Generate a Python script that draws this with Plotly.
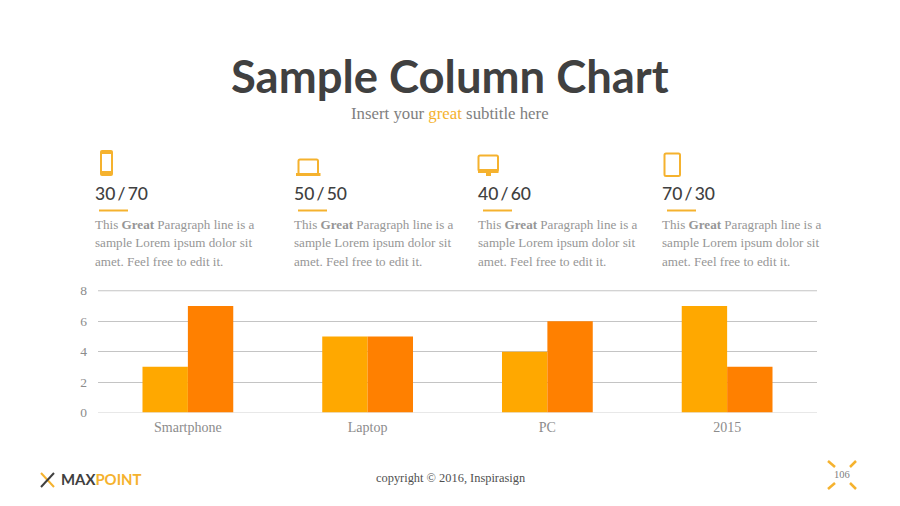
import plotly.graph_objects as go

W, H = 900, 506

categories = ["Smartphone", "Laptop", "PC", "2015"]
series_1 = [3, 5, 4, 7]
series_2 = [7, 5, 6, 3]
y_ticks = [0, 2, 4, 6, 8]

card_titles = ["30 / 70", "50 / 50", "40 / 60", "70 / 30"]
card_lines = ["This <b>Great</b> Paragraph line is a",
              "sample Lorem ipsum dolor sit",
              "amet. Feel free to edit it."]

SERIF = "Liberation Serif"
LATO = "Lato"
GOLD = "#f5b22e"
DARK = "#404040"
GRID = "#c4c4c4"


def px(x):
    return x / W


def py(y):
    return 1 - y / H


def label(x, y, text, size, color, font=SERIF, anchor="left", weight="normal"):
    fig.add_annotation(x=px(x), y=py(y), xref="paper", yref="paper", text=text,
                       showarrow=False, xanchor=anchor, yanchor="middle",
                       borderpad=0, borderwidth=0,
                       font=dict(family=font, size=size, color=color, weight=weight))


def rect(x0, y0, x1, y1, fill=GOLD, line=None, width=2):
    fig.add_shape(type="rect", xref="paper", yref="paper",
                  x0=px(x0), y0=py(y0), x1=px(x1), y1=py(y1), fillcolor=fill,
                  line=dict(color=line or fill, width=width if line else 0))


def round_rect(x0, y0, x1, y1, r, fill=GOLD, line=None, width=2):
    p = [("M", x0 + r, y0), ("L", x1 - r, y0), ("Q", x1, y0, x1, y0 + r),
         ("L", x1, y1 - r), ("Q", x1, y1, x1 - r, y1), ("L", x0 + r, y1),
         ("Q", x0, y1, x0, y1 - r), ("L", x0, y0 + r), ("Q", x0, y0, x0 + r, y0)]
    d = ""
    for seg in p:
        pts = [f"{px(seg[i])},{py(seg[i + 1])}" for i in range(1, len(seg), 2)]
        d += seg[0] + " ".join(pts) + " "
    fig.add_shape(type="path", xref="paper", yref="paper", path=d + "Z", fillcolor=fill,
                  line=dict(color=line or fill, width=width if line else 0))


def stroke(x0, y0, x1, y1, color=GOLD, width=2):
    fig.add_shape(type="line", xref="paper", yref="paper",
                  x0=px(x0), y0=py(y0), x1=px(x1), y1=py(y1),
                  line=dict(color=color, width=width))


fig = go.Figure()
fig.add_bar(x=categories, y=series_1, marker_color="#ffa800", marker_line_width=0)
fig.add_bar(x=categories, y=series_2, marker_color="#ff8000", marker_line_width=0)

fig.update_layout(
    width=W, height=H, margin=dict(l=0, r=0, t=0, b=0, pad=0, autoexpand=False),
    paper_bgcolor="white", plot_bgcolor="white", showlegend=False,
    barmode="group", bargap=0.495, bargroupgap=0,
    xaxis=dict(domain=[px(98), px(817)], showgrid=False, showline=False,
               zeroline=False, ticks="", ticklabelstandoff=4,
               tickfont=dict(family=SERIF, size=14, color="#8c8c8c")),
    yaxis=dict(domain=[py(412.5), py(290)], range=[0, 8.05], tickvals=y_ticks,
               gridcolor=GRID, gridwidth=1, zerolinecolor="#e8e8e8",
               zerolinewidth=1, showline=False, ticks="", ticklabelstandoff=10,
               tickfont=dict(family=SERIF, size=13.5, color="#8c8c8c")),
)

# top gridline does not come out on its own
fig.add_shape(type="line", xref="x domain", yref="y", x0=0, x1=1,
              y0=y_ticks[-1], y1=y_ticks[-1], layer="below",
              line=dict(color=GRID, width=1))

# header
label(450, 75.5, "<b>Sample Column Chart</b>", 45.4, DARK, LATO, "center")
label(450, 113, f'Insert your <span style="color:{GOLD}">great</span> subtitle here',
      16.8, "#808080", SERIF, "center")

# text cards
card_x = [95, 294, 478, 662]
rule_x = [99, 298, 483, 667]
for x, rx, title in zip(card_x, rule_x, card_titles):
    label(x, 193, title.replace(" ", "\u2009"), 17.5, DARK, LATO, weight=500)
    stroke(rx, 210.5, rx + 29, 210.5)
    for y, line in zip([224, 242.5, 261], card_lines):
        label(x, y, line, 13.1, "#969696")

# phone icon
round_rect(100, 150, 113, 176, 2)
rect(102, 154, 111, 171, "white")
# laptop icon
round_rect(298.5, 159.5, 318, 174, 1.5, "white", GOLD)
rect(296, 173, 320.5, 176)
# monitor icon
round_rect(478.5, 155.5, 498, 171, 1.5, "white", GOLD)
rect(478, 169, 498.5, 173)
rect(486, 173, 491, 176)
# tablet icon
round_rect(664.5, 153.5, 680, 176, 1.5, "white", GOLD)

# footer
stroke(41, 473, 54, 487, GOLD, 2)
stroke(54, 473, 41, 487, DARK, 2)
label(61, 479, f'<b>MAX<span style="color:{GOLD}">POINT</span></b>', 14.9, DARK, LATO)
label(450, 478, "copyright © 2016, Inspirasign", 12.4, "#505050", SERIF, "center")
for x0, y0, x1, y1 in [(828, 461, 835, 467), (856, 461, 850, 467),
                       (828, 489, 835, 483), (856, 489, 850, 483)]:
    stroke(x0, y0, x1, y1, GOLD, 2.5)
label(842, 474, "106", 10.5, "#808080", SERIF, "center")

fig.write_html("out.html", post_script="document.body.style.margin='0';",
               config={"displayModeBar": False})
